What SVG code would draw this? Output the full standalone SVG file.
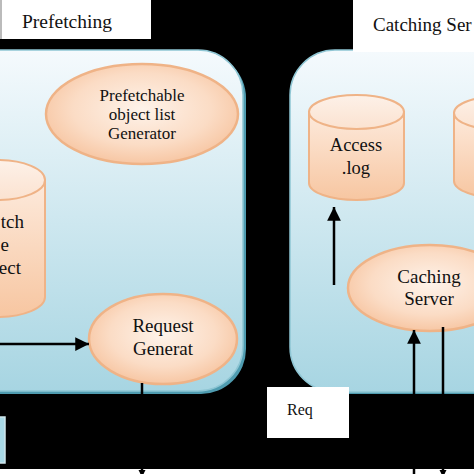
<svg xmlns="http://www.w3.org/2000/svg" width="474" height="474" viewBox="0 0 474 474">
<defs>
<linearGradient id="panelG" x1="0" y1="0" x2="0" y2="1">
<stop offset="0" stop-color="#f5fafd"/>
<stop offset="1" stop-color="#a7d5e2"/>
</linearGradient>
<radialGradient id="ellG" cx="0.5" cy="0.45" r="0.6">
<stop offset="0" stop-color="#fef3ea"/>
<stop offset="0.6" stop-color="#fbdcc5"/>
<stop offset="1" stop-color="#f6c19b"/>
</radialGradient>
<linearGradient id="cylG" x1="0" y1="0" x2="0" y2="1">
<stop offset="0" stop-color="#fdeadc"/>
<stop offset="1" stop-color="#f7c6a1"/>
</linearGradient>
<linearGradient id="cylTop" x1="0" y1="0" x2="0" y2="1">
<stop offset="0" stop-color="#fdf1e8"/>
<stop offset="1" stop-color="#fbe2d0"/>
</linearGradient>
<marker id="ah" viewBox="0 0 10 10" refX="10" refY="5" markerWidth="5.5" markerHeight="5.5" orient="auto" markerUnits="strokeWidth">
<path d="M0,0 L10,5 L0,10 z" fill="#000"/>
</marker>
<marker id="ahs" viewBox="0 0 10 10" refX="10" refY="5" markerWidth="3" markerHeight="3" orient="auto" markerUnits="strokeWidth">
<path d="M0,0 L10,5 L0,10 z" fill="#000"/>
</marker>
</defs>
<style>
.lbl{font-family:"Liberation Serif","Times New Roman",serif;fill:#111;}
.panel{fill:url(#panelG);stroke:#8fc6d4;stroke-width:1.5;}
.shadow{fill:#4f9cb0;}
.ell{fill:url(#ellG);stroke:#efb387;stroke-width:2.5;}
.cyl{fill:url(#cylG);stroke:#efb387;stroke-width:2;}
.cyltop{fill:url(#cylTop);stroke:#efb387;stroke-width:2;}
.box{fill:#fff;}
.conn{stroke:#000;stroke-width:2.5;fill:none;}
</style>
<rect x="0" y="0" width="474" height="474" fill="#000"/>

<g id="bottom-strip"><rect x="0" y="469" width="474" height="5" fill="#fff"/></g>
<g id="left-small-box"><rect x="-10" y="417" width="15" height="46" fill="#a8d8e6" stroke="#cfe6ec" stroke-width="1.5"/></g>

<g id="prefetching-panel">
<rect class="shadow" x="-50" y="53" width="296" height="341" rx="45"/>
<rect class="panel" x="-50" y="50" width="293" height="341" rx="45"/>
</g>
<g id="caching-panel">
<rect class="shadow" x="293" y="53" width="240" height="341" rx="45"/>
<rect class="panel" x="290" y="50" width="240" height="342" rx="45"/>
</g>

<g id="prefetching-label">
<rect class="box" x="0" y="0" width="151" height="39"/>
<rect x="0" y="0" width="2" height="39" fill="#bbb"/>
<text class="lbl" x="22" y="28" font-size="19.5">Prefetching</text>
</g>
<g id="caching-label">
<rect class="box" x="353" y="0" width="121" height="52"/>
<text class="lbl" x="373" y="31" font-size="19">Catching Ser</text>
</g>

<g id="generator">
<ellipse class="ell" cx="142" cy="114" rx="96" ry="50"/>
<text class="lbl" font-size="17" text-anchor="middle"><tspan x="142" y="101">Prefetchable</tspan><tspan x="142" y="120">object list</tspan><tspan x="142" y="139">Generator</tspan></text>
</g>

<g id="prefetch-object-db">
<path class="cyl" d="M-50,180 L-50,297 A47.5,20 0 0 0 45,297 L45,180 Z"/>
<ellipse class="cyltop" cx="-2.5" cy="180" rx="47.5" ry="20"/>
<text class="lbl" font-size="19" text-anchor="end"><tspan x="24" y="228">tch</tspan><tspan x="9" y="251">e</tspan><tspan x="21" y="274">ect</tspan></text>
</g>

<g id="request-generator">
<ellipse class="ell" cx="163" cy="339" rx="74" ry="45"/>
<text class="lbl" font-size="19" text-anchor="middle"><tspan x="163" y="332">Request</tspan><tspan x="163" y="355">Generat</tspan></text>
</g>

<g id="access-log">
<path class="cyl" d="M309,112 L309,183 A47.5,17 0 0 0 404,183 L404,112 Z"/>
<ellipse class="cyltop" cx="356.5" cy="112" rx="47.5" ry="17"/>
<text class="lbl" font-size="18.5" text-anchor="middle"><tspan x="356" y="151">Access</tspan><tspan x="356" y="174">.log</tspan></text>
</g>

<g id="cache-db">
<path class="cyl" d="M454,113 L454,181 A47.5,17 0 0 0 549,181 L549,113 Z"/>
<ellipse class="cyltop" cx="501.5" cy="113" rx="47.5" ry="17"/>
</g>

<g id="caching-server">
<ellipse class="ell" cx="430" cy="288" rx="82" ry="43"/>
<text class="lbl" font-size="19" text-anchor="middle"><tspan x="429" y="283">Caching</tspan><tspan x="429" y="305">Server</tspan></text>
</g>

<g id="req-label">
<rect class="box" x="267" y="387" width="82" height="51"/>
<text class="lbl" x="287" y="415" font-size="16">Req</text>
</g>

<g id="connectors">
<line class="conn" x1="-5" y1="344" x2="89" y2="344" marker-end="url(#ah)"/>
<line class="conn" x1="334" y1="285" x2="334" y2="207" marker-end="url(#ah)"/>
<line class="conn" x1="414" y1="474" x2="414" y2="330" marker-end="url(#ah)"/>
<line class="conn" x1="443" y1="327" x2="443" y2="477" marker-end="url(#ahs)"/>
<line class="conn" x1="142" y1="383" x2="142" y2="477" marker-end="url(#ahs)"/>
</g>
</svg>
